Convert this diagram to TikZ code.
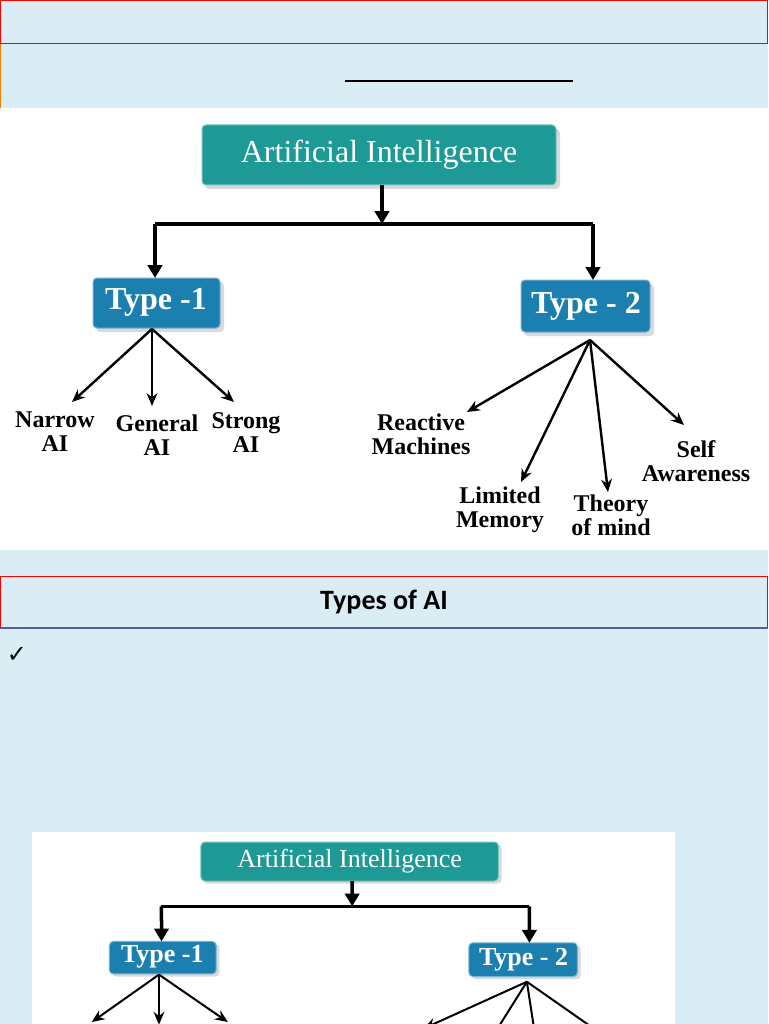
\documentclass[tikz,border=0pt]{standalone}
\usepackage{fontspec}
\setmainfont{Liberation Serif}
\newfontfamily\carfont{Carlito}
\newfontfamily\djfont{DejaVu Sans}
\usetikzlibrary{arrows.meta}
\definecolor{lb}{HTML}{DAEDF4}
\definecolor{teal1}{HTML}{1E9A96}
\definecolor{blue1}{HTML}{1B7FB0}
\newif\ifshowlabs
\tikzset{
 band/.style={fill=lb,draw=red,line width=1pt},
 boxt/.style={fill=teal1,draw=teal1!60,line width=1pt,rounded corners=4pt},
 boxb/.style={fill=blue1,draw=blue1!60,line width=1pt,rounded corners=4pt},
 thickarr/.style={line width=#1,-{Triangle[length=4.5mm,width=5mm]}},
 thinarr/.style={line width=#1,-{Stealth[length=4.5mm,width=3.8mm]}},
 lab/.style={align=center,font=\bfseries\fontsize{#1}{#1}\selectfont,inner sep=0pt}
}
\newcommand\aidiag[4]{% #1 box font, #2 label font, #3 thick lw, #4 thin lw
 \fill[gray!30,rounded corners=4pt] (205,129) rectangle (560,189);
 \draw[boxt] (202,125) rectangle (556,185);
 \node[inner sep=0pt,text=white,font=\fontsize{#1}{#1}\selectfont] (ai) at (379,155) {Artificial Intelligence};
 \coordinate (aib) at (382,185);
 \coordinate (j) at (382,224);
 \coordinate (l) at (155,224);
 \coordinate (r) at (593,224);
 \fill[gray!30,rounded corners=4pt] (96,282) rectangle (224,332);
 \draw[boxb] (93,278) rectangle (220,328);
 \node[inner sep=0pt,text=white,font=\bfseries\fontsize{#1}{#1}\selectfont] (t1) at (156,302) {Type -1};
 \fill[gray!30,rounded corners=4pt] (524,284) rectangle (654,336);
 \draw[boxb] (521,280) rectangle (650,332);
 \node[inner sep=0pt,text=white,font=\bfseries\fontsize{#1}{#1}\selectfont] (t2) at (586,306) {Type - 2};
 \draw[thickarr=#3] (aib) -- (382,224);
 \draw[line width=#3] (l) -- (r);
 \draw[thickarr=#3] (l) -- (155,278);
 \draw[thickarr=#3] (r) -- (593,280);
 \coordinate (s1) at (152,329);
 \coordinate (s2) at (590,340);
 \coordinate (a1) at (72,402); \coordinate (a2) at (152,406); \coordinate (a3) at (234,402);
 \coordinate (b1) at (467,412); \coordinate (b2) at (521,482); \coordinate (b3) at (608,492); \coordinate (b4) at (684,425);
 \foreach \e in {a1,a2,a3} \draw[thinarr=#4] (s1) -- (\e);
 \foreach \e in {b1,b2,b3,b4} \draw[thinarr=#4] (s2) -- (\e);
 \ifshowlabs
 \node[lab=#2] (n1) at (55,432) {Narrow\\AI};
 \node[lab=#2] (n2) at (157,435) {General\\AI};
 \node[lab=#2] (n3) at (246,433) {Strong\\AI};
 \node[lab=#2] (m1) at (421,434) {Reactive\\Machines};
 \node[lab=#2] (m2) at (500,510) {Limited\\Memory};
 \node[lab=#2] (m3) at (611,515) {Theory\\of mind};
 \node[lab=#2] (m4) at (696,461) {Self\\Awareness};
 \fi
}
\begin{document}
\begin{tikzpicture}[x=1pt,y=-1pt]
\useasboundingbox (0,0) rectangle (768,1024);
\clip (0,0) rectangle (768,1024);
\fill[lb] (0,0) rectangle (768,1024);
\draw[band] (0.5,0.5) rectangle (767.5,44);
\draw[orange,line width=1pt] (0.5,44) -- (0.5,108);
\draw[line width=2.5pt] (345,81) -- (573,81);
\fill[white] (0,108) rectangle (768,550);
\showlabstrue
\aidiag{32}{24}{4.5pt}{2.4pt}
\draw[band] (0.5,576) rectangle (767.5,628);
\draw[gray!70!blue,line width=1.2pt] (0,628) -- (768,628);
\node[font=\carfont\bfseries\fontsize{28}{28}\selectfont] (title) at (384,602) {Types of AI};
\node[font=\djfont\fontsize{24}{24}\selectfont] (ck) at (17,655) {✓};
\fill[white] (32,832) rectangle (675,1030);
\showlabsfalse
\begin{scope}[shift={(31.3,760.75)},xscale=0.84,yscale=0.65]
\aidiag{26}{18}{3.5pt}{2pt}
\end{scope}
\end{tikzpicture}
\end{document}
